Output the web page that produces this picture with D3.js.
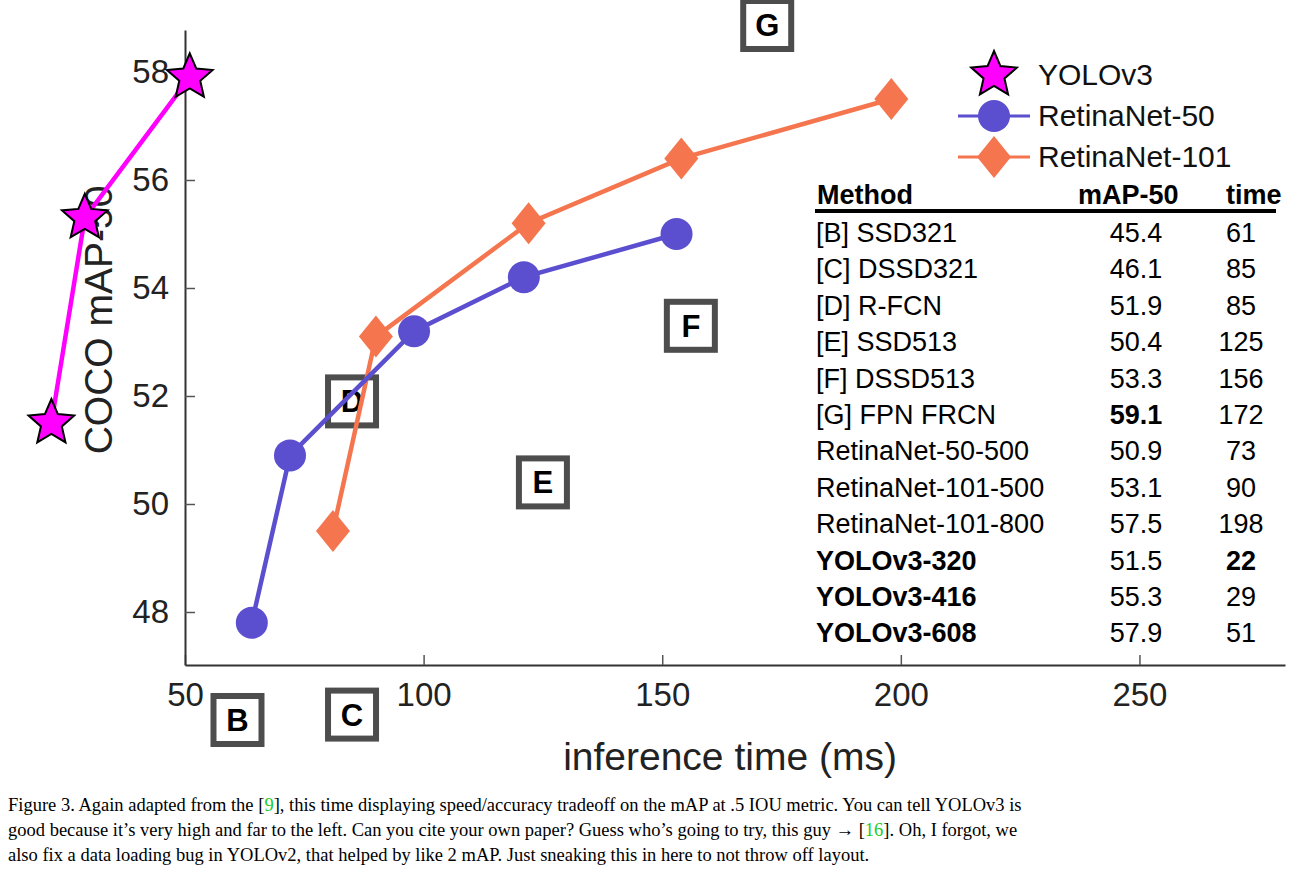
<!DOCTYPE html>
<html><head><meta charset="utf-8">
<script src="https://cdn.jsdelivr.net/npm/d3@7"></script>
<style>body{margin:0;background:#fff}</style>
</head><body><svg id="c" width="1290" height="879" font-family="Liberation Sans, Arial, sans-serif"></svg>
<script>
const yoloT=[22,29,51], yoloM=[51.5,55.3,57.9];
const r50T=[64,72,98,121,153], r50M=[47.8,50.9,53.2,54.2,55.0];
const r101T=[81,90,122,154,198], r101M=[49.5,53.1,55.2,56.4,57.5];
const xTicks=[50,100,150,200,250], yTicks=[48,50,52,54,56,58];
const boxLetters=["B","C","D","E","F","G"], boxT=[61,85,85,125,156,172], boxM=[45.4,46.1,51.9,50.4,53.3,59.1];
const tblMethod=["[B] SSD321","[C] DSSD321","[D] R-FCN","[E] SSD513","[F] DSSD513","[G] FPN FRCN","RetinaNet-50-500","RetinaNet-101-500","RetinaNet-101-800","YOLOv3-320","YOLOv3-416","YOLOv3-608"];
const tblMap=["45.4","46.1","51.9","50.4","53.3","59.1","50.9","53.1","57.5","51.5","55.3","57.9"];
const tblTime=["61","85","85","125","156","172","73","90","198","22","29","51"];
const boldMethod=[0,0,0,0,0,0,0,0,0,1,1,1], boldMap=[0,0,0,0,0,1,0,0,0,0,0,0], boldTime=[0,0,0,0,0,0,0,0,0,1,0,0];

const svg=d3.select("#c");
const x=d3.scaleLinear().domain([50,280.5]).range([185,1285]);
const y=d3.scaleLinear().domain([47.02,58.78]).range([665,30]);
// calibrate: 58 -> 72, 48 -> 612
y.domain([48-53/54,58+42/54]).range([665,30]);
const C={y:"#ff00ff",r50:"#5b4fcf",r101:"#f4754e"};
const ax=svg.append("g").attr("transform","translate(0,665)").call(d3.axisBottom(x).tickValues(xTicks).tickSize(-10).tickPadding(24).tickSizeOuter(0));
const ay=svg.append("g").attr("transform","translate(185,0)").call(d3.axisLeft(y).tickValues(yTicks).tickSize(-10).tickPadding(14).tickSizeOuter(0));
[ax,ay].forEach(a=>{a.select(".domain").attr("stroke","#333").attr("stroke-width",2);a.selectAll(".tick line").attr("stroke","#555").attr("stroke-width",1.5);a.selectAll("text").attr("font-size",33).attr("fill","#222").attr("font-family","Liberation Sans, Arial");});
ay.selectAll("text").attr("dx",-2);
ax.selectAll("text").attr("dy","0.5em");
svg.append("text").attr("x",730).attr("y",770).attr("text-anchor","middle").attr("font-size",39).attr("fill","#222").text("inference time (ms)");
svg.append("text").attr("transform","translate(112,320) rotate(-90)").attr("text-anchor","middle").attr("font-size",39).attr("fill","#222").text("COCO mAP-50");
boxLetters.forEach((L,i)=>{let px=x(boxT[i]),py=Math.min(720,Math.max(25,y(boxM[i])));
 const g=svg.append("g");
 g.append("rect").attr("x",px-24).attr("y",py-24).attr("width",48).attr("height",48).attr("fill","white").attr("fill-opacity",0.3).attr("stroke","#4d4d4d").attr("stroke-width",6);
 g.append("text").attr("x",px).attr("y",py+11).attr("text-anchor","middle").attr("font-size",31).attr("font-weight","bold").text(L);});
const line=d3.line().x(d=>x(d[0])).y(d=>y(d[1]));
function starPath(){const ro=24,ri=11;let p=[];for(let k=0;k<10;k++){const a=-Math.PI/2+k*Math.PI/5,r=k%2?ri:ro;p.push([r*Math.cos(a),r*Math.sin(a)]);}return "M"+p.join("L")+"Z";}
const diamPath="M0,-21L17,0L0,21L-17,0Z";
function series(T,M,col,sym){const pts=T.map((t,i)=>[t,M[i]]);
 svg.append("path").attr("d",line(pts)).attr("fill","none").attr("stroke",col).attr("stroke-width",4.5);
 pts.forEach(p=>{if(sym==="c")svg.append("circle").attr("cx",x(p[0])).attr("cy",y(p[1])).attr("r",16).attr("fill",col);
  else svg.append("path").attr("d",sym==="s"?starPath():diamPath).attr("transform",`translate(${x(p[0])},${y(p[1])})`).attr("fill",col).attr("stroke",sym==="s"?"#000":"none").attr("stroke-width",2);});}
series(r101T,r101M,C.r101,"d");
series(r50T,r50M,C.r50,"c");
series(yoloT,yoloM,C.y,"s");
const lg=[["YOLOv3",C.y,"s"],["RetinaNet-50",C.r50,"c"],["RetinaNet-101",C.r101,"d"]];
lg.forEach((l,i)=>{const ly=75+i*41;
 if(l[2]!=="s")svg.append("line").attr("x1",958).attr("x2",1030).attr("y1",ly).attr("y2",ly).attr("stroke",l[1]).attr("stroke-width",3);
 if(l[2]==="c")svg.append("circle").attr("cx",994).attr("cy",ly).attr("r",16).attr("fill",l[1]);
 else svg.append("path").attr("d",l[2]==="s"?starPath():diamPath).attr("transform",`translate(994,${ly})`).attr("fill",l[1]).attr("stroke",l[2]==="s"?"#000":"none").attr("stroke-width",2);
 svg.append("text").attr("x",1038).attr("y",ly+10).attr("font-size",30).attr("fill","#111").text(l[0]);});
const th=svg.append("g").attr("font-size",27);
th.append("text").attr("x",817).attr("y",204).attr("font-weight","bold").text("Method");
th.append("text").attr("x",1078).attr("y",204).attr("font-weight","bold").text("mAP-50");
th.append("text").attr("x",1226).attr("y",204).attr("font-weight","bold").text("time");
svg.append("line").attr("x1",815).attr("x2",1276).attr("y1",211).attr("y2",211).attr("stroke","#000").attr("stroke-width",4);
tblMethod.forEach((m,i)=>{const ry=242+i*36.4;
 th.append("text").attr("x",816).attr("y",ry).attr("font-weight",boldMethod[i]?"bold":"normal").text(m);
 th.append("text").attr("x",1136).attr("y",ry).attr("text-anchor","middle").attr("font-weight",boldMap[i]?"bold":"normal").text(tblMap[i]);
 th.append("text").attr("x",1241).attr("y",ry).attr("text-anchor","middle").attr("font-weight",boldTime[i]?"bold":"normal").text(tblTime[i]);});
const cap=[["Figure 3. Again adapted from the ",["[9]"],", this time displaying speed/accuracy tradeoff on the mAP at .5 IOU metric. You can tell YOLOv3 is"],
["good because it\u2019s very high and far to the left. Can you cite your own paper? Guess who\u2019s going to try, this guy \u2192 ",["[16]"],". Oh, I forgot, we"],
["also fix a data loading bug in YOLOv2, that helped by like 2 mAP. Just sneaking this in here to not throw off layout."]];
cap.forEach((parts,i)=>{const t=svg.append("text").attr("x",8).attr("y",811+i*25).attr("font-size",18.5).attr("font-family","Liberation Serif, Times New Roman, serif");
 parts.forEach(p=>{if(Array.isArray(p)){t.append("tspan").text("[");t.append("tspan").text(p[0].slice(1,-1)).attr("fill","#22cc22");t.append("tspan").text("]");}else t.append("tspan").text(p);});});
</script></body></html>
